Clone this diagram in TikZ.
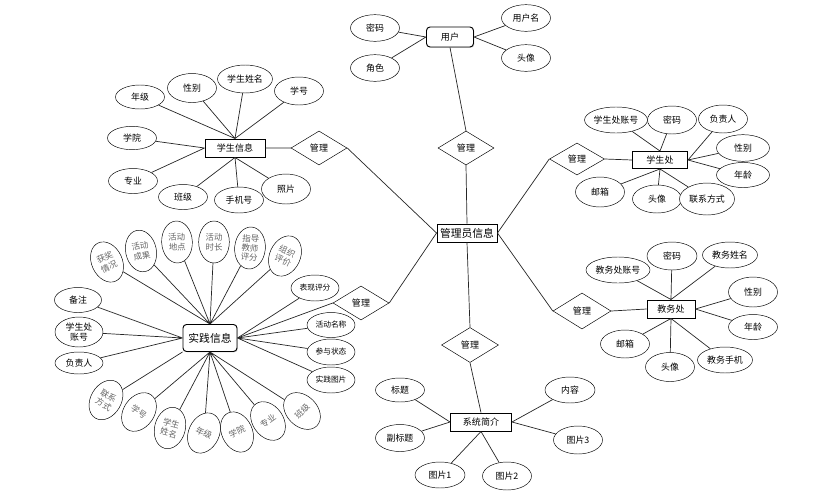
\documentclass[tikz,border=0pt]{standalone}
\usepackage{fontspec}
\setmainfont{Noto Sans CJK SC}
\usetikzlibrary{shapes.geometric, shadows}

\begin{document}
\begin{tikzpicture}[
    x=0.03cm, y=-0.03cm,
    ent/.style={draw, rectangle, thick, minimum width=1.8cm, minimum height=0.54cm, inner sep=1pt, align=center, font=\fontsize{7.7}{9}\selectfont, fill=white, drop shadow={shadow xshift=0.7pt, shadow yshift=-0.7pt, opacity=0.35}},
    bigent/.style={ent, font=\fontsize{9.2}{11}\selectfont},
    rel/.style={draw, diamond, minimum width=1.68cm, minimum height=1.02cm, inner sep=0pt, font=\fontsize{7.7}{9}\selectfont, fill=white},
    attr/.style={draw, ellipse, minimum width=1.47cm, minimum height=0.8cm, inner sep=0pt, align=center, font=\fontsize{7.6}{9}\selectfont, fill=white},
    small/.style={attr, minimum width=1.44cm, minimum height=0.78cm, font=\fontsize{6.6}{8}\selectfont},
    fan/.style={draw, ellipse, minimum width=0.92cm, minimum height=1.26cm, inner sep=0pt, align=center, font=\fontsize{7.2}{8.6}\selectfont, text=black!60, fill=white},
    link/.style={draw=black!85, line width=0.6pt}
]
\useasboundingbox (0,0) rectangle (834,499);

% entities and relations
\node[bigent] (gly) at (467,233) {管理员信息};
\node[ent, rounded corners=3pt, minimum width=1.41cm, minimum height=0.6cm] (yh) at (450,37) {用户};
\node[ent] (xs) at (235,148) {学生信息};
\node[ent, minimum width=1.65cm, minimum height=0.51cm] (xsc) at (660,160) {学生处};
\node[ent, minimum width=1.44cm] (jwc) at (671,309) {教务处};
\node[ent, minimum width=1.83cm] (xtjj) at (481,422) {系统简介};
\node[bigent, rounded corners=3pt, minimum width=1.62cm, minimum height=0.81cm] (sj) at (210,338) {实践信息};

\node[rel] (gl1) at (466,148) {管理};
\node[rel] (gl2) at (319,148) {管理};
\node[rel, minimum width=1.65cm, minimum height=0.96cm] (gl3) at (577,159) {管理};
\node[rel, minimum width=1.74cm, minimum height=1.08cm] (gl4) at (582,311) {管理};
\node[rel, minimum width=1.71cm, minimum height=1.05cm] (gl5) at (470,345) {管理};
\node[rel] (gl6) at (361,303) {管理};

% user
\node[attr] (yh_mm) at (375,28) {密码};
\node[attr] (yh_js) at (375,68) {角色};
\node[attr] (yh_yhm) at (526,18) {用户名};
\node[attr] (yh_tx) at (526,58) {头像};

% student info
\node[attr, minimum height=0.72cm] (xs_nj) at (140,97) {年级};
\node[attr, minimum height=0.87cm] (xs_xb) at (192,88) {性别};
\node[attr, minimum width=1.65cm, minimum height=0.84cm] (xs_xm) at (245,79) {学生姓名};
\node[attr, minimum height=0.84cm] (xs_xh) at (299,91) {学号};
\node[attr, minimum height=0.7cm] (xs_xy) at (132,138) {学院};
\node[attr, minimum height=0.75cm] (xs_zy) at (133,181) {专业};
\node[attr, minimum height=0.75cm] (xs_bj) at (183,197) {班级};
\node[attr, minimum height=0.78cm] (xs_sjh) at (239,200) {手机号};
\node[attr, minimum height=0.9cm] (xs_zp) at (286,189) {照片};

% student office
\node[attr, minimum width=1.86cm, minimum height=0.78cm] (xsc_zh) at (616,120) {学生处账号};
\node[attr, minimum height=0.84cm] (xsc_mm) at (672,120) {密码};
\node[attr, minimum height=0.84cm] (xsc_fzr) at (723,119) {负责人};
\node[attr, minimum width=1.59cm] (xsc_xb) at (743,148) {性别};
\node[attr, minimum width=1.59cm, minimum height=0.75cm] (xsc_nl) at (743,175) {年龄};
\node[attr, minimum height=0.9cm] (xsc_yx) at (600,192) {邮箱};
\node[attr, minimum height=0.84cm] (xsc_tx) at (657,199) {头像};
\node[attr, minimum width=1.65cm, minimum height=0.96cm] (xsc_lxfs) at (707,199) {联系方式};

% academic office
\node[attr, minimum width=1.92cm, minimum height=0.78cm] (jwc_zh) at (618,270) {教务处账号};
\node[attr, minimum width=1.5cm, minimum height=0.84cm] (jwc_mm) at (672,256) {密码};
\node[attr, minimum width=1.65cm, minimum height=0.78cm] (jwc_xm) at (730,255) {教务姓名};
\node[attr, minimum height=0.9cm] (jwc_xb) at (753,292) {性别};
\node[attr, minimum height=0.75cm] (jwc_nl) at (753,327) {年龄};
\node[attr, minimum height=0.84cm] (jwc_yx) at (625,344) {邮箱};
\node[attr, minimum height=0.87cm] (jwc_tx) at (670,367) {头像};
\node[attr, minimum width=1.65cm, minimum height=0.78cm] (jwc_sj) at (725,360) {教务手机};

% system intro
\node[attr, minimum height=0.72cm] (xt_bt) at (400,390) {标题};
\node[attr, minimum height=0.81cm] (xt_fbt) at (400,438) {副标题};
\node[attr, minimum width=1.5cm, minimum height=0.78cm] (xt_tp1) at (440,475) {图片1};
\node[attr, minimum height=0.84cm] (xt_tp2) at (507,476) {图片2};
\node[attr, minimum width=1.5cm, minimum height=0.78cm] (xt_nr) at (570,390) {内容};
\node[attr, minimum height=0.84cm] (xt_tp3) at (578,440) {图片3};

% practice info
\node[small] (sj_bxpf) at (315,288) {表现评分};
\node[small, minimum height=0.75cm] (sj_hdmc) at (331,325) {活动名称};
\node[small] (sj_cyzt) at (331,352) {参与状态};
\node[small] (sj_sjtp) at (331,380) {实践图片};
\node[attr, minimum width=1.41cm, minimum height=0.75cm] (sj_bz) at (78,300) {备注};
\node[attr, minimum width=1.44cm, minimum height=0.9cm, font=\fontsize{7.6}{8.6}\selectfont] (sj_zh) at (79,332) {学生处\\账号};
\node[attr, minimum width=1.44cm, minimum height=0.66cm] (sj_fzr) at (79,363) {负责人};

\node[fan, rotate=25] (sj_hjqk) at (107,262) {获奖\\情况};
\node[fan, rotate=12] (sj_hdcg) at (141,251) {活动\\成果};
\node[fan, rotate=3] (sj_hddd) at (177,242) {活动\\地点};
\node[fan] (sj_hdsc) at (214,242) {活动\\时长};
\node[fan, rotate=-5, font=\fontsize{7.2}{8}\selectfont] (sj_zdjs) at (250,248) {指导\\教师\\评分};
\node[fan, rotate=-25] (sj_zzpj) at (285,256) {组织\\评价};

\node[fan, rotate=-30] (sj_lxfs) at (106,400) {联系\\方式};
\node[fan, rotate=-35] (sj_xh) at (139,412) {学号};
\node[fan, rotate=-15] (sj_xm) at (170,428) {学生\\姓名};
\node[fan, rotate=-25] (sj_nj) at (204,433) {年级};
\node[fan, rotate=25] (sj_xy) at (237,432) {学院};
\node[fan, rotate=35] (sj_zy) at (268,421) {专业};
\node[fan, rotate=45] (sj_bj) at (302,411) {班级};

% relation lines
\draw[link] (yh.south) -- (gl1.north) (gl1.south) -- (gly.north);
\draw[link] (xs.east) -- (gl2.west) (gl2.east) -- (gly.west);
\draw[link] (gly.east) -- (gl3.west) (gl3.east) -- (xsc.west);
\draw[link] (gly.east) -- (gl4.west) (gl4.east) -- (jwc.west);
\draw[link] (gly.south) -- (gl5.north) (gl5.south) -- (xtjj.north);
\draw[link] (gly.west) -- (gl6.east) (gl6.west) -- (sj.east);

% attribute lines
\draw[link] (yh_mm) -- (yh.west) (yh_js) -- (yh.west) (yh_yhm) -- (yh.east) (yh_tx) -- (yh.east);

\draw[link] (xs_nj) -- (xs.north) (xs_xb) -- (xs.north) (xs_xm) -- (xs.north) (xs_xh) -- (xs.north);
\draw[link] (xs_xy) -- (xs.west) (xs_zy) -- (xs.west);
\draw[link] (xs_bj) -- (xs.south) (xs_sjh) -- (xs.south) (xs_zp) -- (xs.south);

\draw[link] (xsc_zh) -- (xsc.north) (xsc_mm) -- (xsc.north);
\draw[link] (xsc_fzr) -- (xsc.east) (xsc_xb) -- (xsc.east) (xsc_nl) -- (xsc.east);
\draw[link] (xsc_yx) -- (xsc.south) (xsc_tx) -- (xsc.south) (xsc_lxfs) -- (xsc.south);

\draw[link] (jwc_zh) -- (jwc.north) (jwc_mm) -- (jwc.north) (jwc_xm) -- (jwc.north);
\draw[link] (jwc_xb) -- (jwc.east) (jwc_nl) -- (jwc.east);
\draw[link] (jwc_yx) -- (jwc.south) (jwc_tx) -- (jwc.south) (jwc_sj) -- (jwc.south);

\draw[link] (xt_bt) -- (xtjj.west) (xt_fbt) -- (xtjj.west);
\draw[link] (xt_nr) -- (xtjj.east) (xt_tp3) -- (xtjj.east);
\draw[link] (xt_tp1) -- (xtjj.south) (xt_tp2) -- (xtjj.south);

\draw[link] (sj_bxpf) -- (sj.east) (sj_hdmc) -- (sj.east) (sj_cyzt) -- (sj.east) (sj_sjtp) -- (sj.east);
\draw[link] (sj_bz) -- (sj.west) (sj_zh) -- (sj.west) (sj_fzr) -- (sj.west);
\draw[link] (sj_hjqk) -- (sj.north) (sj_hdcg) -- (sj.north) (sj_hddd) -- (sj.north)
            (sj_hdsc) -- (sj.north) (sj_zdjs) -- (sj.north) (sj_zzpj) -- (sj.north);
\draw[link] (sj_lxfs) -- (sj.south west) (sj_xh) -- (sj.south) (sj_xm) -- (sj.south)
            (sj_nj) -- (sj.south) (sj_xy) -- (sj.south) (sj_zy) -- (sj.south) (sj_bj) -- (sj.south);
\end{tikzpicture}
\end{document}
